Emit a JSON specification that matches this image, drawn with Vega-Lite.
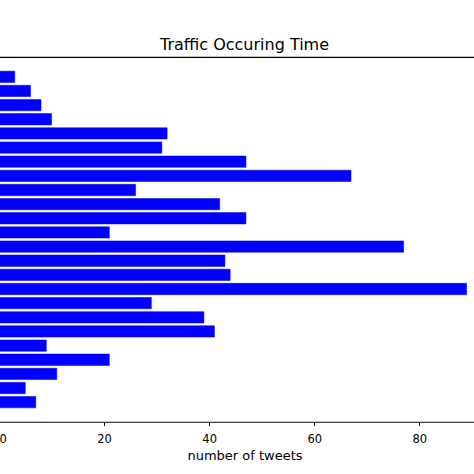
{
  "$schema": "https://vega.github.io/schema/vega-lite/v6.json",
  "autosize": "none",
  "padding": {"left": -1, "top": 57, "right": 0, "bottom": 52},
  "width": 491,
  "height": 365,
  "background": "white",
  "config": {
    "font": "DejaVu Sans",
    "view": {"stroke": "black", "strokeWidth": 1.2}
  },
  "title": {
    "text": "Traffic Occuring Time",
    "fontSize": 16,
    "fontWeight": "normal",
    "color": "black",
    "anchor": "middle",
    "baseline": "alphabetic",
    "offset": -9
  },
  "data": {
    "values": [
      {"hour": 0, "tweets": 3},
      {"hour": 1, "tweets": 6},
      {"hour": 2, "tweets": 8},
      {"hour": 3, "tweets": 10},
      {"hour": 4, "tweets": 32},
      {"hour": 5, "tweets": 31},
      {"hour": 6, "tweets": 47},
      {"hour": 7, "tweets": 67},
      {"hour": 8, "tweets": 26},
      {"hour": 9, "tweets": 42},
      {"hour": 10, "tweets": 47},
      {"hour": 11, "tweets": 21},
      {"hour": 12, "tweets": 77},
      {"hour": 13, "tweets": 43},
      {"hour": 14, "tweets": 44},
      {"hour": 15, "tweets": 89},
      {"hour": 16, "tweets": 29},
      {"hour": 17, "tweets": 39},
      {"hour": 18, "tweets": 41},
      {"hour": 19, "tweets": 9},
      {"hour": 20, "tweets": 21},
      {"hour": 21, "tweets": 11},
      {"hour": 22, "tweets": 5},
      {"hour": 23, "tweets": 7}
    ]
  },
  "mark": {"type": "bar", "color": "#0000ff", "stroke": "#0000c8", "strokeWidth": 0.5},
  "encoding": {
    "y": {
      "field": "hour",
      "type": "ordinal",
      "scale": {"paddingInner": 0.2, "paddingOuter": 1.19},
      "axis": null
    },
    "x": {
      "field": "tweets",
      "type": "quantitative",
      "scale": {"domain": [0, 93.45], "nice": false, "zero": true},
      "axis": {
        "title": "number of tweets",
        "titleFontSize": 13,
        "titleFontWeight": "normal",
        "titleColor": "black",
        "titlePadding": 4,
        "values": [0, 20, 40, 60, 80],
        "labelFontSize": 11.5,
        "labelColor": "black",
        "labelPadding": 8,
        "tickSize": 3.5,
        "tickColor": "black",
        "domainColor": "#444444",
        "grid": false
      }
    }
  }
}
